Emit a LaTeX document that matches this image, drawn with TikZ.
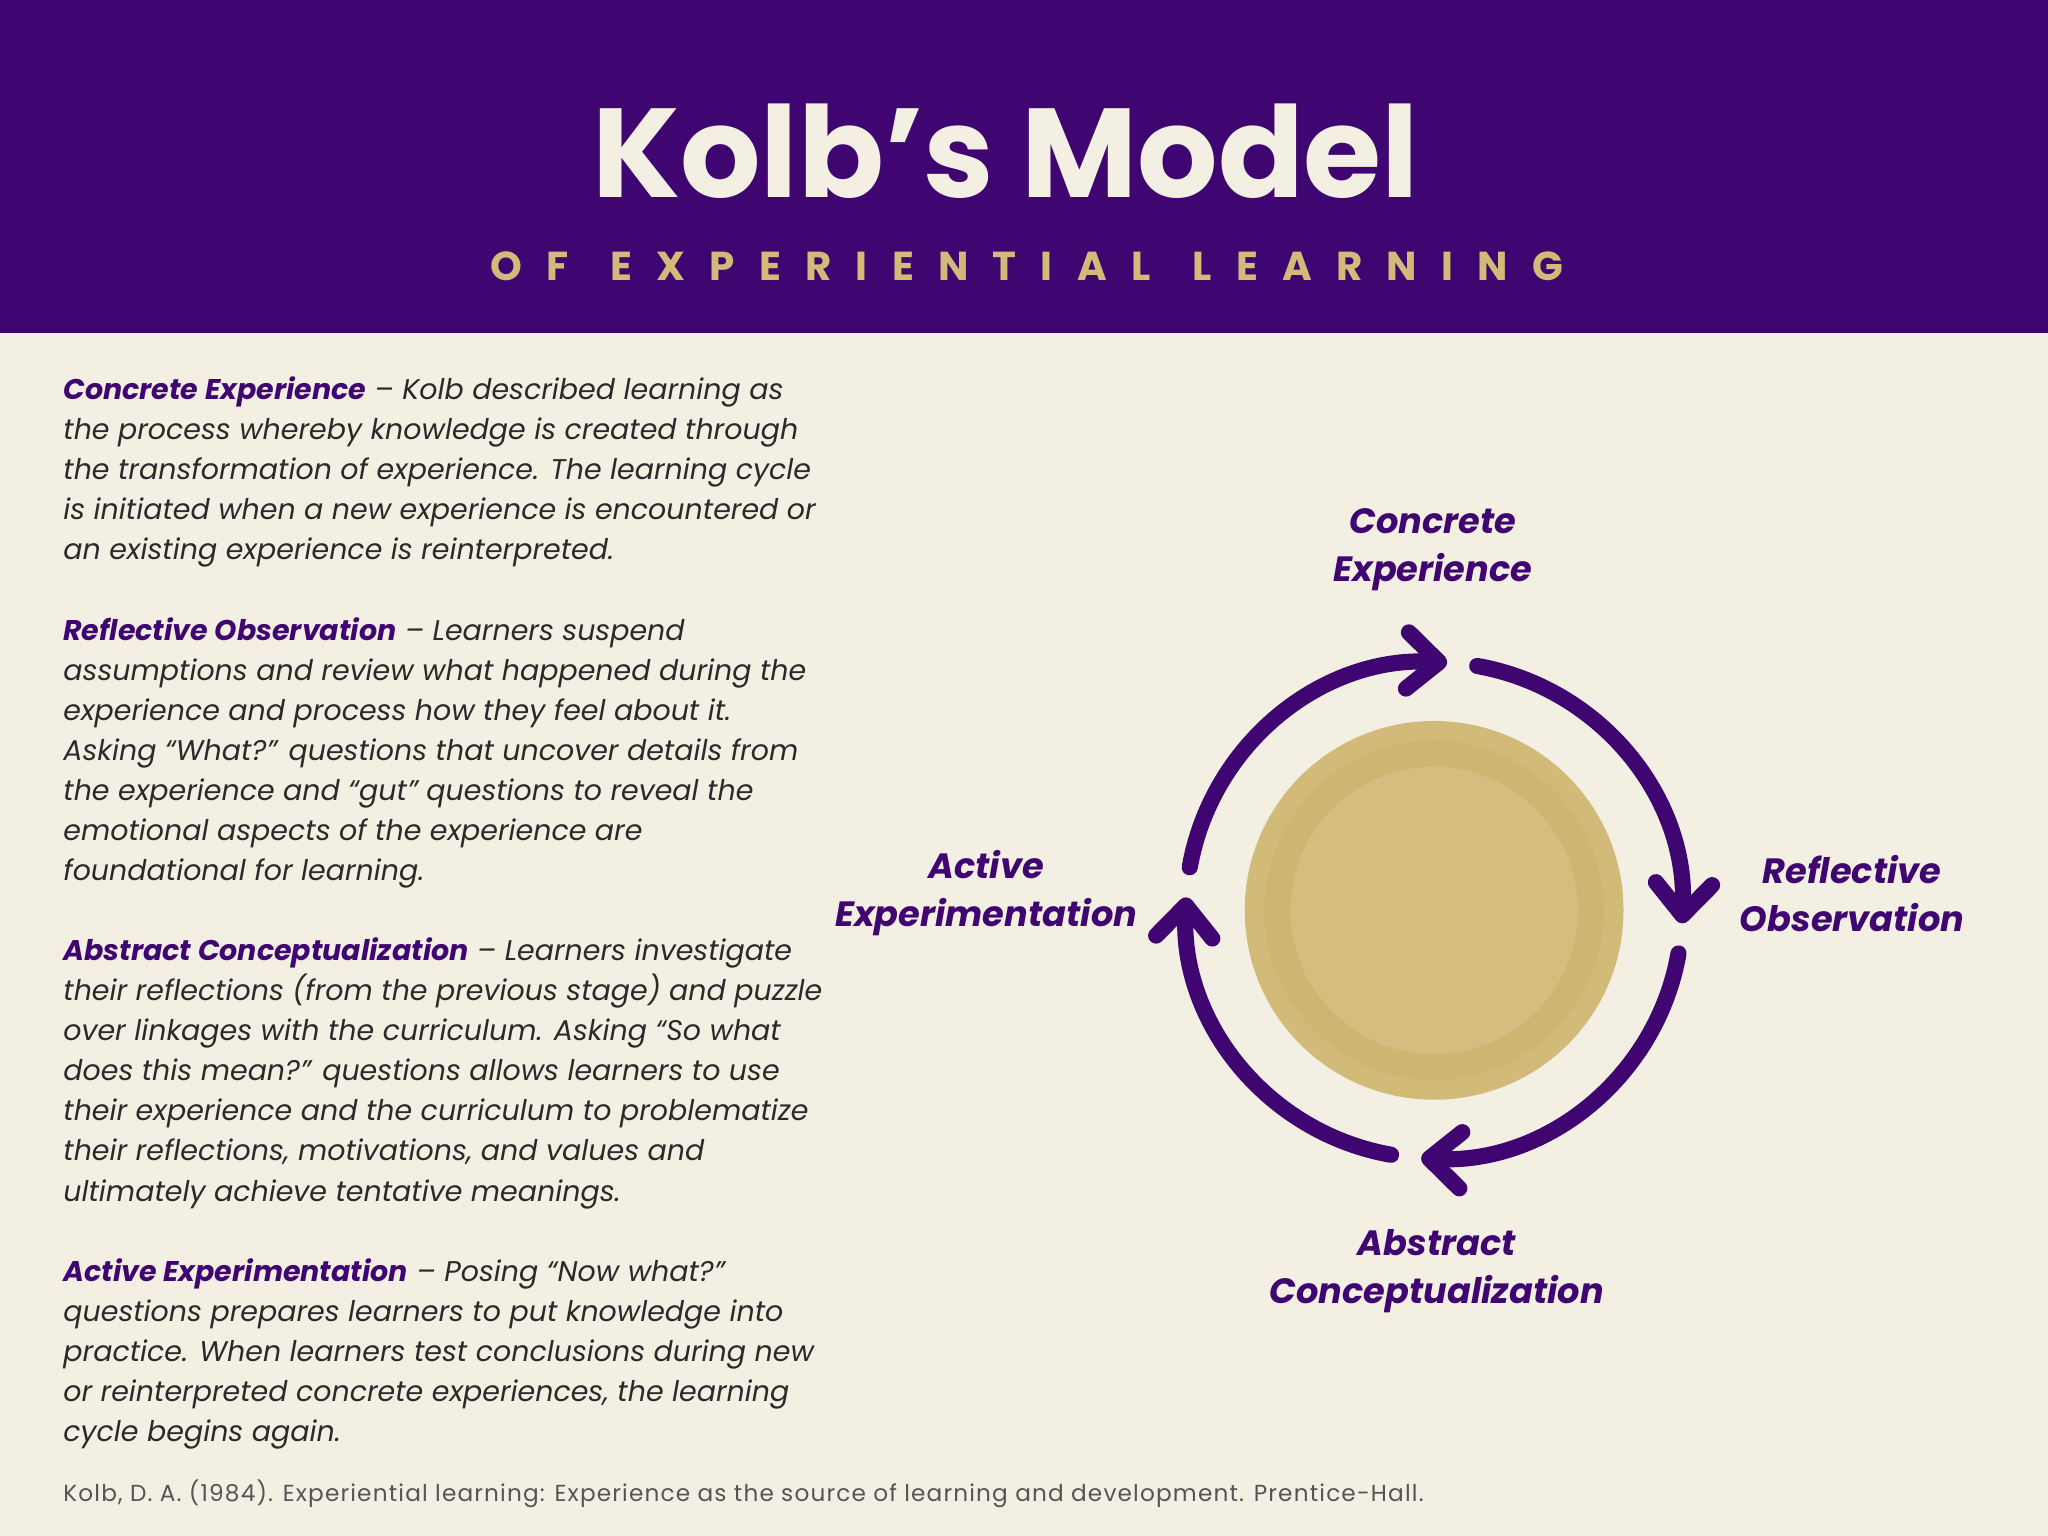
\documentclass[tikz,border=0pt]{standalone}
\usepackage{fontspec}
\setmainfont{Poppins}
\usetikzlibrary{arrows.meta,calc}
\definecolor{kpurple}{HTML}{3F0571}
\definecolor{kbg}{HTML}{F3EFE3}
\definecolor{kgold}{HTML}{D2BA78}
\definecolor{ktext}{HTML}{2A2A2A}
\newfontfamily\spacedfont[LetterSpace=60]{Poppins}
\newfontfamily\reffont[LetterSpace=5]{Poppins}
\begin{document}
\begin{tikzpicture}[x=0.013061cm,y=-0.013061cm,
  cyc/.style={kpurple,line width=4.6pt,line cap=round,-{Straight Barb[length=9pt,width=16pt,line cap=round,line join=round]}},
  lab/.style={kpurple,font=\fontsize{10}{13.6}\selectfont\bfseries\itshape,align=center},
  body/.style={ktext,font=\fontsize{8.1}{11.4}\selectfont\itshape,align=left,anchor=north west,inner sep=0pt}]
\fill[kbg] (0,0) rectangle (1568,1176);
\useasboundingbox (0,0) rectangle (1568,1176);
\fill[kpurple] (0,0) rectangle (1568,255);
\node[text=kbg,font=\fontsize{36}{40}\selectfont\bfseries] (title) at (770,116) {Kolb{\char"0027}s Model};
\node[text=kgold,font=\fontsize{11.5}{14}\selectfont\spacedfont\bfseries] (sub) at (786,204) {OF\hspace{12pt}EXPERIENTIAL\hspace{12pt}LEARNING};
% circle
\coordinate (c) at (1098,697);
\fill[kgold] (c) circle (145);
\fill[kgold!90!brown] (c) circle (130);
\fill[kgold!95!white] (c) circle (110);
\draw[cyc] ($(c)+(-80:190)$) arc[start angle=-80,end angle=3,radius=190];
\draw[cyc] ($(c)+(10:190)$) arc[start angle=10,end angle=93,radius=190];
\draw[cyc] ($(c)+(100:190)$) arc[start angle=100,end angle=183,radius=190];
\draw[cyc] ($(c)+(-170:190)$) arc[start angle=-170,end angle=-87,radius=190];
\node[lab] (ce) at (1097,421) {Concrete\\Experience};
\node[lab] (ro) at (1418,684) {Reflective\\Observation};
\node[lab] (ae) at (755,684) {Active\\Experimentation};
\node[lab] (ac) at (1100,973) {Abstract\\Conceptualization};
\node[body] (txt) at (48,288) {%
{\bfseries\color{kpurple}Concrete Experience} -- Kolb described learning as\\
the process whereby knowledge is created through\\
the transformation of experience. The learning cycle\\
is initiated when a new experience is encountered or\\
an existing experience is reinterpreted.\\[11.4pt]
{\bfseries\color{kpurple}Reflective Observation} -- Learners suspend\\
assumptions and review what happened during the\\
experience and process how they feel about it.\\
Asking “What?” questions that uncover details from\\
the experience and “gut” questions to reveal the\\
emotional aspects of the experience are\\
foundational for learning.\\[11.4pt]
{\bfseries\color{kpurple}Abstract Conceptualization} -- Learners investigate\\
their reflections (from the previous stage) and puzzle\\
over linkages with the curriculum. Asking “So what\\
does this mean?” questions allows learners to use\\
their experience and the curriculum to problematize\\
their reflections, motivations, and values and\\
ultimately achieve tentative meanings.\\[11.4pt]
{\bfseries\color{kpurple}Active Experimentation} -- Posing “Now what?”\\
questions prepares learners to put knowledge into\\
practice. When learners test conclusions during new\\
or reinterpreted concrete experiences, the learning\\
cycle begins again.};
\node[anchor=west,text=ktext!80,font=\fontsize{6.6}{8}\selectfont\reffont,inner sep=0pt] (ref) at (48,1144) {Kolb, D. A. (1984). Experiential learning: Experience as the source of learning and development. Prentice-Hall.};
\end{tikzpicture}
\end{document}
